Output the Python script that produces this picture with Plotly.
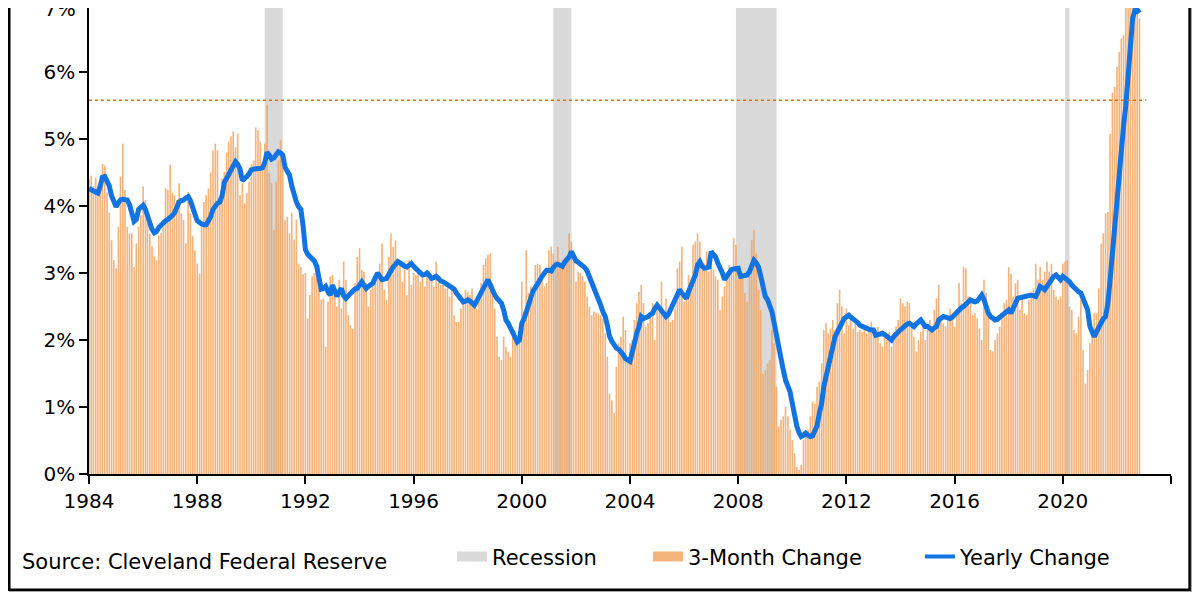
import plotly.graph_objects as go
import pandas as pd

# monthly values, Jan 1984 .. Nov 2022 (percent)
three_month_change = [
    4.40, 4.45, 4.30, 4.42, 4.14, 4.45, 4.63, 4.60, 4.20, 3.90, 3.49, 3.19,  # 1984
    3.07, 3.69, 4.44, 4.93, 4.24, 3.69, 3.59, 3.59, 3.09, 3.44, 3.69, 3.86,  # 1985
    4.29, 4.09, 3.75, 3.59, 3.40, 3.25, 3.19, 3.56, 3.60, 3.69, 4.26, 4.24,  # 1986
    4.61, 4.20, 4.16, 4.09, 4.34, 3.89, 3.79, 3.44, 4.21, 3.89, 3.55, 3.34,  # 1987
    3.14, 2.99, 3.69, 4.06, 4.16, 4.26, 4.50, 4.83, 4.93, 4.83, 4.09, 4.41,  # 1988
    4.51, 4.80, 4.96, 5.04, 5.11, 4.88, 5.08, 4.16, 4.34, 4.04, 4.19, 4.36,  # 1989
    4.63, 4.68, 5.17, 5.13, 4.96, 4.63, 4.93, 5.51, 4.49, 4.34, 3.64, 4.36,  # 1990
    4.68, 4.98, 4.58, 3.79, 3.84, 3.59, 3.90, 3.50, 3.80, 3.14, 3.09, 2.98,  # 1991
    3.00, 2.32, 2.67, 2.95, 3.00, 3.09, 3.12, 2.60, 2.62, 1.90, 2.57, 2.95,  # 1992
    2.97, 2.70, 2.50, 2.90, 2.47, 3.17, 2.90, 2.37, 2.22, 2.17, 2.85, 3.24,  # 1993
    3.37, 3.05, 3.02, 2.85, 2.50, 2.75, 2.80, 2.97, 3.02, 3.14, 3.44, 2.75,  # 1994
    2.60, 3.24, 3.59, 3.39, 3.49, 3.14, 3.14, 2.87, 3.17, 2.67, 3.19, 2.82,  # 1995
    3.00, 2.97, 3.00, 2.87, 3.00, 2.80, 2.95, 3.02, 2.90, 2.80, 3.17, 2.85,  # 1996
    2.82, 2.82, 2.77, 2.77, 2.65, 2.77, 2.37, 2.27, 2.27, 2.47, 2.60, 2.75,  # 1997
    2.72, 2.67, 2.77, 2.55, 2.47, 2.65, 2.85, 3.12, 3.22, 3.27, 3.29, 2.85,  # 1998
    2.47, 2.05, 1.75, 1.70, 2.05, 1.90, 1.83, 1.75, 2.08, 2.15, 2.00, 2.00,  # 1999
    2.87, 2.42, 3.34, 2.70, 2.80, 2.60, 3.12, 3.14, 3.12, 2.90, 2.80, 2.85,  # 2000
    3.34, 3.39, 3.29, 3.19, 3.39, 3.14, 3.09, 3.22, 3.14, 3.59, 3.47, 3.17,  # 2001
    2.87, 3.02, 3.00, 2.95, 2.87, 2.65, 2.50, 2.37, 2.42, 2.40, 2.40, 2.37,  # 2002
    2.32, 2.10, 1.75, 1.20, 1.10, 0.91, 1.60, 1.95, 2.05, 2.35, 2.15, 1.70,  # 2003
    1.95, 2.00, 2.30, 2.55, 2.72, 2.82, 2.55, 2.20, 2.25, 2.37, 2.55, 2.00,  # 2004
    2.55, 2.47, 2.87, 2.37, 2.62, 2.37, 2.27, 2.30, 2.47, 3.07, 3.17, 3.39,  # 2005
    2.57, 2.75, 2.97, 2.90, 3.42, 3.47, 3.59, 3.47, 3.05, 3.14, 3.32, 3.02,  # 2006
    3.24, 3.05, 2.95, 2.90, 2.45, 2.65, 2.80, 2.97, 3.12, 3.05, 3.52, 3.42,  # 2007
    2.90, 2.97, 3.00, 2.70, 2.57, 2.95, 3.49, 3.64, 3.29, 2.75, 2.45, 1.50,  # 2008
    1.55, 1.65, 1.70, 2.15, 1.95, 1.30, 0.71, 0.81, 0.86, 1.00, 0.86, 0.66,  # 2009
    0.51, 0.31, 0.11, 0.06, 0.14, 0.51, 0.63, 0.66, 0.86, 1.08, 1.05, 1.30,  # 2010
    1.38, 1.65, 2.15, 2.25, 2.10, 2.17, 2.30, 2.15, 2.55, 2.75, 2.50, 2.10,  # 2011
    2.47, 2.22, 2.35, 2.17, 2.25, 2.12, 2.15, 2.12, 2.15, 2.10, 2.17, 2.27,  # 2012
    2.15, 2.12, 2.20, 1.95, 1.90, 2.05, 2.00, 2.12, 1.90, 2.00, 2.20, 2.30,  # 2013
    2.62, 2.55, 2.50, 2.57, 2.55, 2.20, 2.05, 1.83, 2.00, 2.12, 2.20, 2.00,  # 2014
    2.15, 2.30, 2.20, 2.45, 2.62, 2.82, 2.35, 2.25, 2.20, 2.30, 2.47, 2.30,  # 2015
    2.20, 2.40, 2.85, 2.55, 3.09, 3.07, 2.65, 2.60, 2.37, 2.40, 2.32, 2.17,  # 2016
    2.00, 2.90, 2.70, 2.45, 1.85, 1.83, 2.00, 2.10, 2.20, 2.40, 2.55, 2.60,  # 2017
    3.09, 2.99, 2.65, 2.85, 2.90, 2.45, 2.67, 2.40, 2.37, 2.60, 2.70, 2.77,  # 2018
    3.14, 2.90, 3.09, 2.90, 3.02, 3.17, 3.02, 3.14, 2.75, 2.65, 2.60, 2.65,  # 2019
    3.14, 3.17, 3.19, 2.50, 2.45, 2.15, 2.10, 2.35, 2.60, 1.85, 1.35, 1.55,  # 2020
    1.95, 2.15, 2.40, 2.40, 2.77, 3.44, 3.59, 3.89, 3.91, 5.08, 5.69, 5.78,  # 2021
    6.08, 6.30, 6.50, 6.55, 7.30, 7.90, 8.40, 8.60, 8.10, 7.05, 6.80,        # 2022
]

yearly_change = [
    4.26, 4.24, 4.23, 4.21, 4.19, 4.30, 4.43, 4.44, 4.38, 4.30, 4.15, 4.05,  # 1984
    3.99, 4.05, 4.09, 4.10, 4.09, 4.09, 4.02, 3.85, 3.77, 3.80, 3.95, 3.98,  # 1985
    4.01, 3.95, 3.85, 3.78, 3.65, 3.60, 3.62, 3.68, 3.72, 3.75, 3.78, 3.80,  # 1986
    3.82, 3.86, 3.90, 3.98, 4.06, 4.08, 4.09, 4.12, 4.14, 4.08, 3.95, 3.88,  # 1987
    3.78, 3.74, 3.73, 3.72, 3.72, 3.78, 3.84, 3.95, 4.01, 4.04, 4.06, 4.15,  # 1988
    4.35, 4.42, 4.48, 4.54, 4.60, 4.66, 4.62, 4.55, 4.38, 4.40, 4.44, 4.48,  # 1989
    4.54, 4.55, 4.56, 4.56, 4.56, 4.57, 4.65, 4.80, 4.76, 4.70, 4.72, 4.78,  # 1990
    4.81, 4.79, 4.76, 4.58, 4.50, 4.46, 4.30, 4.15, 4.06, 3.99, 3.95, 3.70,  # 1991
    3.35, 3.28, 3.24, 3.22, 3.18, 3.10, 2.90, 2.76, 2.77, 2.80, 2.72, 2.67,  # 1992
    2.82, 2.70, 2.65, 2.72, 2.77, 2.66, 2.62, 2.66, 2.70, 2.73, 2.76, 2.77,  # 1993
    2.82, 2.87, 2.82, 2.77, 2.80, 2.83, 2.85, 2.93, 3.00, 2.95, 2.90, 2.91,  # 1994
    2.92, 2.98, 3.05, 3.09, 3.13, 3.17, 3.15, 3.12, 3.10, 3.09, 3.12, 3.14,  # 1995
    3.10, 3.07, 3.03, 3.00, 2.97, 2.98, 3.00, 2.96, 2.92, 2.93, 2.95, 2.92,  # 1996
    2.88, 2.87, 2.85, 2.83, 2.81, 2.80, 2.76, 2.70, 2.65, 2.60, 2.57, 2.58,  # 1997
    2.60, 2.58, 2.55, 2.52, 2.58, 2.65, 2.72, 2.80, 2.87, 2.90, 2.82, 2.73,  # 1998
    2.67, 2.62, 2.58, 2.55, 2.45, 2.30, 2.25, 2.18, 2.12, 2.05, 1.97, 2.00,  # 1999
    2.25, 2.32, 2.42, 2.50, 2.62, 2.73, 2.78, 2.85, 2.90, 2.95, 3.00, 3.04,  # 2000
    3.04, 3.03, 3.08, 3.12, 3.13, 3.12, 3.10, 3.16, 3.19, 3.24, 3.32, 3.25,  # 2001
    3.18, 3.16, 3.14, 3.12, 3.08, 3.03, 2.95, 2.87, 2.80, 2.72, 2.60, 2.52,  # 2002
    2.42, 2.35, 2.22, 2.05, 1.98, 1.92, 1.88, 1.86, 1.83, 1.78, 1.72, 1.70,  # 2003
    1.68, 1.82, 1.98, 2.10, 2.20, 2.35, 2.32, 2.33, 2.35, 2.38, 2.40, 2.47,  # 2004
    2.52, 2.48, 2.44, 2.40, 2.35, 2.38, 2.45, 2.52, 2.60, 2.68, 2.75, 2.70,  # 2005
    2.65, 2.62, 2.72, 2.80, 2.88, 2.97, 3.12, 3.17, 3.10, 3.07, 3.08, 3.09,  # 2006
    3.32, 3.28, 3.24, 3.15, 3.09, 3.00, 2.90, 2.95, 3.02, 3.05, 3.06, 3.07,  # 2007
    3.07, 2.95, 2.96, 2.97, 2.97, 3.02, 3.10, 3.19, 3.15, 3.09, 2.95, 2.82,  # 2008
    2.65, 2.60, 2.52, 2.42, 2.25, 2.05, 1.90, 1.72, 1.55, 1.40, 1.30, 1.23,  # 2009
    1.05, 0.86, 0.72, 0.62, 0.56, 0.58, 0.61, 0.58, 0.56, 0.57, 0.63, 0.72,  # 2010
    0.91, 1.05, 1.30, 1.45, 1.60, 1.75, 1.97, 2.05, 2.12, 2.17, 2.25, 2.32,  # 2011
    2.35, 2.37, 2.34, 2.32, 2.30, 2.26, 2.22, 2.20, 2.18, 2.17, 2.16, 2.15,  # 2012
    2.15, 2.07, 2.08, 2.10, 2.10, 2.08, 2.05, 2.03, 2.00, 2.05, 2.10, 2.12,  # 2013
    2.15, 2.18, 2.22, 2.24, 2.25, 2.22, 2.20, 2.24, 2.28, 2.30, 2.25, 2.20,  # 2014
    2.20, 2.17, 2.15, 2.18, 2.20, 2.30, 2.33, 2.35, 2.34, 2.33, 2.32, 2.34,  # 2015
    2.38, 2.42, 2.45, 2.48, 2.50, 2.54, 2.58, 2.60, 2.58, 2.57, 2.58, 2.62,  # 2016
    2.67, 2.60, 2.48, 2.40, 2.35, 2.32, 2.30, 2.31, 2.34, 2.37, 2.40, 2.43,  # 2017
    2.45, 2.40, 2.48, 2.56, 2.62, 2.63, 2.64, 2.65, 2.66, 2.67, 2.67, 2.66,  # 2018
    2.65, 2.72, 2.80, 2.78, 2.75, 2.80, 2.86, 2.92, 2.95, 2.97, 2.93, 2.90,  # 2019
    2.95, 2.93, 2.90, 2.87, 2.82, 2.78, 2.75, 2.72, 2.70, 2.62, 2.55, 2.45,  # 2020
    2.20, 2.12, 2.05, 2.12, 2.20, 2.28, 2.32, 2.35, 2.55, 2.90, 3.30, 3.75,  # 2021
    4.20, 4.50, 4.85, 5.20, 5.50, 5.95, 6.40, 6.80, 6.92, 6.93, 6.88,        # 2022
]

recession_start = ["1990-07-01", "2001-03-01", "2007-12-01", "2020-02-01"]
recession_end = ["1991-03-01", "2001-11-01", "2009-06-01", "2020-04-01"]

ref_level = 5.58
ref_end = "2023-02-01"

tick_years = [1984, 1988, 1992, 1996, 2000, 2004, 2008, 2012, 2016, 2020, 2024]
tick_labels = ["1984", "1988", "1992", "1996", "2000", "2004", "2008", "2012", "2016", "2020", ""]
y_ticks = [0, 1, 2, 3, 4, 5, 6, 7]
y_labels = ["0%", "1%", "2%", "3%", "4%", "5%", "6%", "7%"]
y_top = 6.955

months = pd.date_range("1984-01-01", periods=len(three_month_change), freq="MS")

FONT = "DejaVu Sans, Noto Sans, sans-serif"
ORANGE = "rgba(240,160,90,0.8)"
BLUE = "#1273E3"
GREY = "#D9D9D9"

fig = go.Figure()

fig.add_trace(go.Bar(x=months, y=three_month_change, marker_color=ORANGE,
                     marker_line_width=0, showlegend=False))
fig.add_trace(go.Scatter(x=months, y=yearly_change, mode="lines",
                         line=dict(color=BLUE, width=5), showlegend=False))

# legend entries
fig.add_trace(go.Scatter(x=[None], y=[None], mode="lines", name="Recession",
                         line=dict(color=GREY, width=12), legend="legend"))
fig.add_trace(go.Scatter(x=[None], y=[None], mode="lines", name="3-Month Change",
                         line=dict(color="#F4B37A", width=12), legend="legend2"))
fig.add_trace(go.Scatter(x=[None], y=[None], mode="lines", name="Yearly Change",
                         line=dict(color=BLUE, width=4), legend="legend3"))

for s, e in zip(recession_start, recession_end):
    fig.add_vrect(x0=s, x1=e, fillcolor=GREY, line_width=0, layer="below")

fig.add_shape(type="line", x0=months[0], x1=ref_end, y0=ref_level, y1=ref_level,
              line=dict(color="#E0701E", width=1.5, dash="dot"))

# top tick label sits at the cropped top edge, as in the original
fig.add_annotation(text=y_labels[-1], x=0, xref="paper", xshift=-11,
                   y=y_ticks[-1] / y_top, yref="paper", yshift=-4,
                   xanchor="right", yanchor="middle", showarrow=False,
                   font=dict(size=20, color="black", family=FONT))

# frame around the picture
fig.add_shape(type="rect", xref="paper", yref="paper", x0=-0.0730, x1=1.0190,
              y0=-0.2525, y1=1.05, line=dict(color="#A8A8A8", width=2))
fig.add_shape(type="rect", xref="paper", yref="paper", x0=-0.0739, x1=1.0172,
              y0=-0.2485, y1=1.05, line=dict(color="black", width=2.5))

fig.add_annotation(text="Source: Cleveland Federal Reserve", xref="paper", yref="paper",
                   x=-0.0638, y=-0.189, xanchor="left", yanchor="middle", showarrow=False,
                   font=dict(size=21, color="black", family=FONT))

leg = dict(orientation="h", yanchor="middle", y=-0.178, xanchor="left",
           font=dict(size=21, color="black", family=FONT), bgcolor="rgba(0,0,0,0)")

fig.update_layout(
    width=1184, height=584,
    margin=dict(l=81, r=21, t=0, b=118, autoexpand=False),
    paper_bgcolor="white", plot_bgcolor="white",
    font=dict(family=FONT, color="black"),
    bargap=0.2,
    legend=dict(leg, x=0.3355),
    legend2=dict(leg, x=0.5166),
    legend3=dict(leg, x=0.768),
    xaxis=dict(type="date", range=["1984-01-01", "2024-01-01"], automargin=False,
               tickmode="array", tickvals=[f"{y}-01-01" for y in tick_years], ticktext=tick_labels,
               ticks="outside", ticklen=8, tickwidth=1.5, tickcolor="black",
               showline=True, linecolor="black", linewidth=1.5, showgrid=False,
               tickfont=dict(size=20, family=FONT, color="black")),
    yaxis=dict(range=[0, y_top], automargin=False,
               tickmode="array", tickvals=y_ticks, ticktext=y_labels,
               ticks="outside", ticklen=8, tickwidth=1.5, tickcolor="black",
               showline=True, linecolor="black", linewidth=1.5, showgrid=False,
               zeroline=False, tickfont=dict(size=20, family=FONT, color="black")),
)

fig.write_html("out.html")
